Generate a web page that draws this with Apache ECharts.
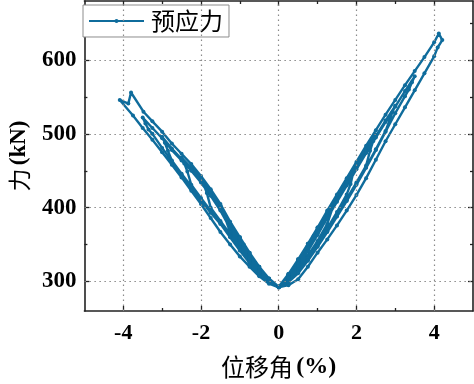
<!DOCTYPE html>
<html><head><meta charset="utf-8">
<script src="https://cdn.jsdelivr.net/npm/echarts@6/dist/echarts.min.js"></script>
<style>html,body{margin:0;padding:0;background:#fff}#c{width:474px;height:384px}</style>
</head><body><div id="c"></div>
<script>
// Tick values
const xMajorTicks = [-4, -2, 0, 2, 4];
const xMinorTicks = [-3, -1, 1, 3];
const yMajorTicks = [300, 400, 500, 600];
const yMinorTicks = [350, 450, 550, 650];

// Hysteresis loops: [drift (%), force (kN)]
const loop1 = [[0,293],[0.25,309],[0.5,327],[0.42,318],[0.25,305],[0,293],
  [-0.25,303],[-0.5,318],[-0.42,311],[-0.25,302],[0,293]];
const loop2 = [[0.25,310],[0.5,330],[0.75,351],[1.0,373],[0.9,362],[0.75,343],[0.5,322],[0.25,307],[0,293],
  [-0.25,304],[-0.5,320],[-0.75,339],[-1.0,360],[-0.9,350],[-0.75,331],[-0.5,314],[-0.25,301],[0,293]];
const loop3 = [[0.25,309],[0.5,328],[0.75,349],[1.0,371],[1.25,394],[1.5,416],[1.42,405],
  [1.25,378],[1.0,355],[0.75,335],[0.5,318],[0.25,305],[0,293],
  [-0.25,303],[-0.5,318],[-0.75,337],[-1.0,358],[-1.25,379],[-1.5,403],[-1.42,392],
  [-1.25,367],[-1.0,348],[-0.75,331],[-0.5,316],[-0.25,302],[0,293]];
const loop4 = [[0.25,308],[0.5,326],[0.75,347],[1.0,369],[1.25,392],[1.5,414],[1.75,436],[2.0,458],[1.93,450],[1.85,432],
  [1.75,418],[1.5,394],[1.25,372],[1.0,352],[0.75,333],[0.5,316],[0.25,304],[0,293],
  [-0.25,302],[-0.5,317],[-0.75,336],[-1.0,357],[-1.25,378],[-1.5,402],[-1.75,422],[-2.0,440],[-1.93,431],[-1.85,420],
  [-1.75,400],[-1.5,382],[-1.25,364],[-1.0,346],[-0.75,329],[-0.5,314],[-0.25,301],[0,293]];
const loop5 = [[0.25,307],[0.5,325],[0.75,345],[1.0,367],[1.25,390],[1.5,412],[1.75,434],[2.0,456],[2.25,478],[2.5,499],[2.43,490],[2.35,477],
  [2.25,457],[2.0,434],[1.75,412],[1.5,391],[1.25,370],[1.0,350],[0.75,331],[0.5,314],[0.25,302],[0,293],
  [-0.25,301],[-0.5,315],[-0.75,334],[-1.0,355],[-1.25,376],[-1.5,400],[-1.75,420],[-2.0,438],[-2.25,454],[-2.5,468],[-2.43,460],[-2.35,449],
  [-2.25,431],[-2.0,413],[-1.75,396],[-1.5,381],[-1.25,363],[-1.0,345],[-0.75,328],[-0.5,313],[-0.25,301],[0,293]];
const loop6 = [[0.25,306],[0.5,323],[0.75,343],[1.0,365],[1.25,388],[1.5,410],[1.75,432],[2.0,454],[2.25,476],[2.5,497],[2.75,518],[3.0,538],[2.93,530],[2.85,518],
  [2.75,504],[2.5,479],[2.25,455],[2.0,432],[1.75,410],[1.5,389],[1.25,368],[1.0,348],[0.75,329],[0.5,312],[0.25,300],[0,293],
  [-0.25,300],[-0.5,314],[-0.75,332],[-1.0,353],[-1.25,374],[-1.5,398],[-1.75,418],[-2.0,436],[-2.25,452],[-2.5,466],[-2.75,480],[-3.0,496],[-2.93,488],[-2.85,477],
  [-2.75,464],[-2.5,446],[-2.25,429],[-2.0,411],[-1.75,394],[-1.5,379],[-1.25,361],[-1.0,343],[-0.75,326],[-0.5,311],[-0.25,300],[0,293]];
const loop7 = [[0.25,305],[0.5,321],[0.75,341],[1.0,363],[1.25,386],[1.5,408],[1.75,430],[2.0,452],[2.25,474],[2.5,495],[2.75,516],[3.0,537],[3.25,558],[3.5,578],[3.43,570],[3.35,560],
  [3.25,551],[3.0,528],[2.75,503],[2.5,478],[2.25,454],[2.0,431],[1.75,409],[1.5,388],[1.25,367],[1.0,347],[0.75,328],[0.5,311],[0.25,299],[0,293],
  [-0.25,299],[-0.5,312],[-0.75,330],[-1.0,351],[-1.25,372],[-1.5,396],[-1.75,416],[-2.0,434],[-2.25,450],[-2.5,464],[-2.75,478],[-3.0,494],[-3.25,508],[-3.5,522],[-3.43,514],[-3.35,506],
  [-3.25,500],[-3.0,481],[-2.75,463],[-2.5,445],[-2.25,428],[-2.0,410],[-1.75,393],[-1.5,378],[-1.25,360],[-1.0,342],[-0.75,325],[-0.5,310],[-0.25,299],[0,293]];
const loop8 = [[0.25,310],[0.5,330],[0.75,351],[1.0,373],[1.25,396],[1.5,418],[1.75,440],[2.0,462],[2.25,484],[2.5,505],[2.75,526],[3.0,546],[3.25,566],[3.5,585],[3.75,604],[4.0,624],[4.12,636],
  [4.21,627],[4.09,617],[4.0,605],[3.75,582],[3.5,559],[3.25,536],[3.0,513],[2.75,490],[2.5,465],[2.25,440],[2.0,417],[1.75,396],[1.5,376],[1.25,357],[1.0,339],[0.75,320],[0.5,303],[0.25,295],[0,292],
  [-0.25,304],[-0.5,320],[-0.75,339],[-1.0,360],[-1.25,381],[-1.5,405],[-1.75,425],[-2.0,443],[-2.25,459],[-2.5,473],[-2.75,487],[-3.0,503],[-3.25,517],[-3.48,530],[-3.80,556],[-3.87,541],[-4.09,546],
  [-3.75,525],[-3.5,508],[-3.25,492],[-3.0,475],[-2.75,458],[-2.5,441],[-2.25,423],[-2.0,405],[-1.75,386],[-1.5,367],[-1.25,350],[-1.0,334],[-0.75,320],[-0.5,307],[-0.25,297],[0,292]];

const seriesData = [].concat(loop1, loop2, loop3, loop4, loop5, loop6, loop7, loop8);

const serif = "'Liberation Serif', 'Times New Roman', serif";
const cjk = "'Noto Sans CJK SC', sans-serif";
const axisColor = '#222';
const lineColor = '#0f6c9c';

function xAx(pos, ticks, len, showLine, showLabel, extra) {
  return Object.assign({
    type: 'value', min: -5, max: 5, position: pos,
    axisLine: { show: showLine, onZero: false, lineStyle: { color: axisColor, width: 1.6 } },
    axisTick: { show: true, inside: true, length: len, customValues: ticks, lineStyle: { color: axisColor, width: 1.3 } },
    axisLabel: { show: showLabel, customValues: ticks, fontFamily: serif, fontWeight: 'bold', fontSize: 22, color: '#000', margin: 11 },
    splitLine: { show: false }
  }, extra || {});
}
function yAx(pos, ticks, len, showLine, showLabel, extra) {
  return Object.assign({
    type: 'value', min: 260, max: 680, position: pos,
    axisLine: { show: showLine, onZero: false, lineStyle: { color: axisColor, width: 1.6 } },
    axisTick: { show: true, inside: true, length: len, customValues: ticks, lineStyle: { color: axisColor, width: 1.3 } },
    axisLabel: { show: showLabel, customValues: ticks, fontFamily: serif, fontWeight: 'bold', fontSize: 23, color: '#000', margin: 8 },
    splitLine: { show: false }
  }, extra || {});
}

const gridLines = [];
xMajorTicks.forEach(v => gridLines.push({ xAxis: v }));
yMajorTicks.forEach(v => gridLines.push({ yAxis: v }));

const option = {
  animation: false,
  backgroundColor: '#fff',
  grid: { left: 77, top: 1, right: 1, bottom: 72, containLabel: false },
  legend: {
    data: ['预应力'], left: 83, top: 5, orient: 'vertical',
    padding: [4, 6, 4, 5], itemWidth: 55, itemHeight: 5, itemGap: 6,
    borderColor: '#8c8c8c', borderWidth: 1, backgroundColor: '#fff',
    textStyle: { fontFamily: cjk, fontSize: 24, color: '#000', padding: [0, 0, 0, 2] }
  },
  xAxis: [
    xAx('bottom', xMajorTicks, 5, true, true, {
      name: '{a|位移角} {b|(%)}', nameLocation: 'middle', nameGap: 44,
      nameTextStyle: { rich: { a: { fontFamily: cjk, fontSize: 24, color: '#000' }, b: { fontFamily: serif, fontWeight: 'bold', fontSize: 24, color: '#000' } } }
    }),
    xAx('bottom', xMinorTicks, 3, false, false),
    xAx('top', xMajorTicks, 5, true, false),
    xAx('top', xMinorTicks, 3, false, false)
  ],
  yAxis: [
    yAx('left', yMajorTicks, 5, true, true, {
      name: '{a|力} {b|(kN)}', nameLocation: 'middle', nameGap: 52, nameRotate: 90,
      nameTextStyle: { rich: { a: { fontFamily: cjk, fontSize: 23, color: '#000' }, b: { fontFamily: serif, fontWeight: 'bold', fontSize: 23, color: '#000' } } }
    }),
    yAx('left', yMinorTicks, 3, false, false),
    yAx('right', yMajorTicks, 5, true, false),
    yAx('right', yMinorTicks, 3, false, false)
  ],
  series: [
    {
      name: 'grid', type: 'line', data: [], z: 1, silent: true,
      markLine: {
        silent: true, symbol: ['none', 'none'], label: { show: false },
        lineStyle: { color: '#8a8a8a', width: 1.2, type: [1.5, 3.5] },
        data: gridLines, animation: false
      }
    },
    {
      name: '预应力', type: 'line', data: seriesData, z: 3,
      showSymbol: true, symbol: 'circle', symbolSize: 4,
      itemStyle: { color: lineColor },
      lineStyle: { color: lineColor, width: 2.4 }
    }
  ]
};
echarts.init(document.getElementById('c')).setOption(option);
</script></body></html>
